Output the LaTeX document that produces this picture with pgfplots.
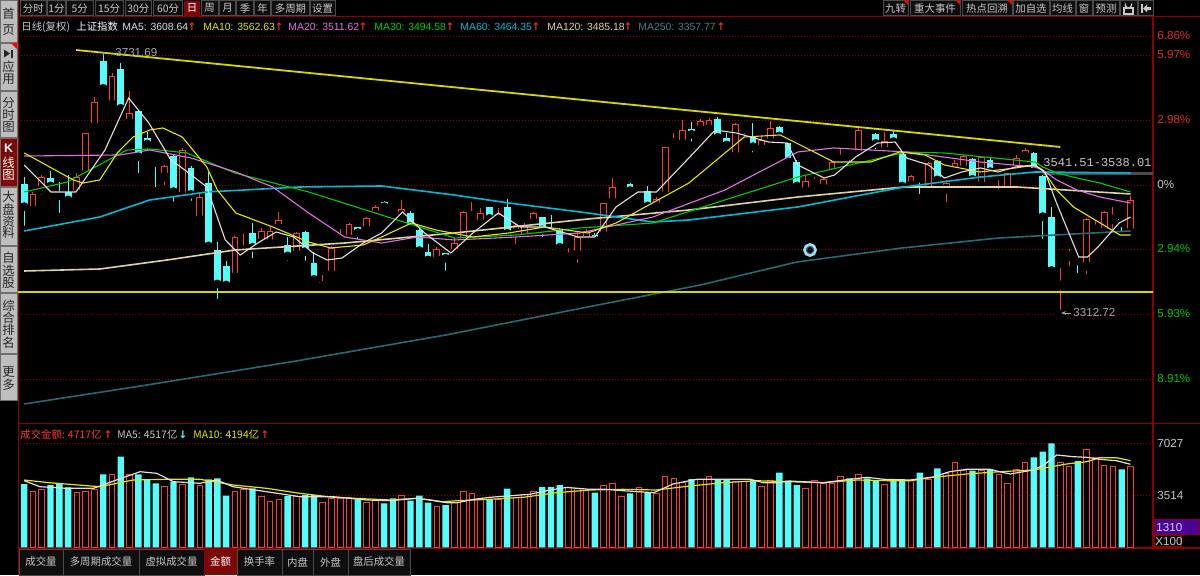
\documentclass[border=0pt]{standalone}
\usepackage{pgfplots}
\pgfplotsset{compat=1.18}
\usepackage{pgfplotstable}
\usetikzlibrary{arrows.meta}
\usepackage{fontspec}
\setmainfont{Liberation Sans}
\newfontfamily\cjk{Noto Sans CJK SC}
\newfontfamily\dv{DejaVu Sans}
\newfontfamily\mono{Liberation Mono}
\definecolor{upred}{RGB}{255,55,55}
\definecolor{dncyan}{RGB}{84,252,252}
\definecolor{ma5c}{RGB}{225,225,225}
\definecolor{ma10c}{RGB}{230,230,0}
\definecolor{ma20c}{RGB}{230,110,230}
\definecolor{ma30c}{RGB}{0,205,0}
\definecolor{ma60c}{RGB}{0,185,210}
\definecolor{ma120c}{RGB}{220,212,165}
\definecolor{ma250c}{RGB}{40,105,115}
\definecolor{trendc}{RGB}{215,215,0}
\definecolor{gridred}{RGB}{150,0,0}
\definecolor{framered}{RGB}{140,0,0}
\definecolor{ltgray}{RGB}{200,200,200}
\definecolor{midgray}{RGB}{165,165,165}
\definecolor{tbg}{RGB}{14,14,14}
\definecolor{tbd}{RGB}{75,75,75}
\definecolor{selred}{RGB}{125,8,8}
\definecolor{sbg}{RGB}{190,190,190}
\definecolor{sbd}{RGB}{110,110,110}
\definecolor{pctred}{RGB}{225,45,45}
\definecolor{pctgreen}{RGB}{0,200,0}
\definecolor{arrred}{RGB}{240,40,40}
\definecolor{purp}{RGB}{75,0,150}

\newcommand\fs{\fontsize{5.2}{6.2}\selectfont}
\newcommand\fr{\fontsize{5.8}{6.8}\selectfont}
\newcommand\fb{\fontsize{6.2}{7.2}\selectfont}

\pgfplotstableread{
i O H L C V u
0 3523.2 3535.0 3448.9 3486.5 4277 0
1 3480.1 3510.8 3473.1 3507.0 3804 1
2 3513.5 3537.7 3498.4 3535.0 3939 1
3 3533.4 3544.7 3508.1 3519.9 4209 0
4 3506.5 3526.9 3469.3 3504.3 4324 0
5 3510.8 3537.7 3494.6 3497.3 4054 0
6 3507.0 3541.5 3494.6 3535.0 3689 1
7 3537.7 3606.1 3529.6 3605.0 3804 1
8 3614.7 3663.1 3613.1 3656.1 3939 1
9 3722.3 3731.7 3665.8 3677.6 4932 0
10 3650.7 3701.9 3637.3 3697.6 4932 1
11 3708.3 3719.1 3644.3 3645.3 6121 0
12 3621.1 3673.3 3620.0 3638.4 4932 1
13 3641.0 3642.7 3533.9 3567.3 4932 0
14 3596.9 3607.7 3570.0 3587.7 4594 0
15 3516.2 3551.1 3502.7 3510.8 4324 0
16 3533.9 3553.8 3514.5 3552.8 4141 1
17 3568.4 3570.0 3487.6 3510.8 4432 0
18 3502.7 3580.8 3501.6 3578.1 4277 1
19 3548.5 3552.2 3489.2 3506.5 4729 0
20 3465.0 3507.0 3459.6 3502.7 4209 1
21 3525.3 3543.1 3422.0 3423.0 4594 0
22 3416.6 3430.0 3330.4 3361.7 4662 0
23 3390.7 3399.3 3356.3 3360.0 3486 0
24 3372.4 3439.2 3371.4 3438.1 3804 1
25 3449.9 3456.9 3416.6 3454.3 3918 1
26 3443.5 3459.6 3396.1 3420.9 3986 0
27 3427.3 3451.6 3422.0 3447.8 3466 1
28 3426.3 3455.3 3413.9 3447.8 3128 1
29 3451.6 3478.5 3449.9 3465.0 3263 1
30 3424.6 3438.1 3392.3 3406.9 3466 0
31 3408.5 3446.2 3406.9 3444.6 3419 1
32 3446.2 3447.8 3392.3 3413.9 3533 0
33 3395.0 3413.9 3365.4 3369.2 3533 0
34 3357.4 3376.2 3349.3 3365.4 3040 1
35 3376.2 3423.0 3375.1 3419.3 3310 1
36 3432.7 3450.5 3422.0 3437.0 3310 1
37 3433.8 3459.6 3432.7 3458.6 3378 1
38 3453.2 3454.3 3427.3 3444.6 3243 0
39 3447.8 3469.3 3446.2 3467.7 3013 1
40 3473.1 3489.2 3467.7 3486.5 3243 1
41 3493.5 3496.2 3480.1 3486.5 2973 0
42 3484.4 3484.9 3471.5 3482.2 3310 0
43 3471.5 3497.3 3469.3 3482.2 3533 1
44 3476.9 3480.1 3451.6 3454.3 3148 0
45 3448.9 3449.9 3413.9 3415.5 3486 0
46 3412.8 3426.3 3389.7 3400.4 3013 0
47 3399.3 3420.9 3397.7 3417.6 2790 1
48 3411.2 3412.3 3376.2 3403.1 2858 0
49 3411.2 3435.4 3410.1 3428.4 3040 1
50 3430.0 3480.1 3428.4 3478.5 3756 1
51 3470.4 3494.6 3466.1 3474.7 3648 1
52 3458.6 3483.9 3453.2 3475.8 3263 1
53 3485.5 3486.5 3465.0 3467.7 3263 0
54 3465.0 3483.9 3459.6 3474.7 3263 1
55 3486.5 3498.4 3440.8 3443.5 3959 0
56 3443.5 3460.7 3419.3 3456.9 3378 1
57 3435.4 3460.7 3426.3 3456.9 3580 1
58 3459.6 3478.5 3456.9 3475.8 3756 1
59 3469.3 3470.4 3430.0 3448.9 4074 0
60 3448.9 3473.1 3430.0 3444.6 4074 0
61 3448.9 3451.6 3419.3 3420.9 4209 0
62 3426.3 3430.6 3405.8 3429.5 4027 1
63 3408.5 3446.2 3388.6 3438.1 3986 1
64 3431.6 3449.9 3430.0 3447.2 3824 1
65 3440.8 3443.5 3421.9 3432.7 3689 0
66 3439.2 3493.0 3424.6 3491.9 4209 1
67 3493.0 3532.3 3491.9 3517.8 4324 1
68 3523.1 3531.2 3512.4 3529.6 3419 1
69 3523.1 3524.2 3507.0 3512.4 3648 0
70 3510.2 3518.8 3497.3 3513.5 4027 1
71 3512.4 3519.9 3485.5 3487.6 3689 0
72 3486.5 3501.6 3471.5 3499.5 3648 1
73 3503.8 3583.4 3502.7 3582.4 4817 1
74 3588.8 3605.0 3587.7 3594.2 4662 1
75 3587.7 3626.5 3586.1 3610.4 4364 1
76 3611.4 3623.8 3584.5 3603.4 4614 0
77 3610.4 3627.6 3600.7 3625.4 4594 1
78 3611.4 3629.2 3605.0 3626.5 4817 1
79 3628.1 3631.9 3586.1 3598.5 4594 0
80 3596.9 3605.0 3585.1 3586.1 4547 0
81 3567.3 3622.2 3563.5 3620.0 4432 1
82 3595.3 3605.0 3583.4 3600.7 4432 1
83 3600.7 3622.2 3567.3 3583.4 4547 0
84 3579.1 3600.7 3577.0 3594.2 4141 1
85 3589.9 3625.4 3588.8 3613.0 4547 1
86 3615.7 3616.8 3594.2 3600.7 5040 0
87 3588.8 3589.9 3556.5 3559.2 4499 0
88 3559.2 3561.9 3516.2 3519.9 4209 0
89 3510.8 3536.1 3509.1 3528.0 3986 1
90 3523.1 3533.9 3508.1 3526.9 4547 1
91 3516.1 3532.3 3508.1 3530.7 4324 1
92 3540.4 3561.9 3539.3 3559.2 4324 1
93 3561.9 3579.1 3559.2 3567.3 4817 1
94 3571.1 3572.7 3553.8 3568.9 4662 0
95 3570.0 3613.0 3568.4 3610.4 4932 1
96 3613.0 3615.7 3606.0 3610.4 4662 0
97 3603.4 3605.0 3572.7 3588.8 4547 0
98 3575.4 3607.7 3573.7 3593.1 4277 1
99 3603.4 3610.4 3590.4 3591.5 4594 0
100 3571.6 3572.7 3518.8 3519.9 4594 0
101 3519.9 3537.1 3517.8 3536.1 4499 1
102 3533.9 3537.7 3500.0 3532.3 5040 0
103 3510.8 3559.2 3508.1 3557.6 4594 1
104 3560.3 3561.9 3525.3 3529.6 5337 0
105 3514.5 3529.6 3486.5 3524.2 4999 1
106 3543.1 3561.9 3529.6 3556.5 5743 1
107 3545.8 3570.0 3543.1 3568.4 5222 1
108 3563.0 3564.6 3528.5 3530.7 5175 0
109 3519.9 3567.3 3518.8 3566.2 5222 1
110 3561.9 3567.3 3541.5 3543.1 5290 0
111 3536.1 3545.8 3508.1 3541.5 4952 1
112 3513.5 3541.5 3510.8 3540.4 4324 1
113 3545.8 3570.0 3544.7 3564.6 5270 1
114 3567.3 3580.7 3566.2 3578.1 5743 1
115 3573.7 3575.4 3541.51 3543.1 6080 0
116 3536.0 3538.01 3427.3 3470.4 6459 0
117 3470.4 3485.5 3383.2 3383.2 7026 0
118 3358.4 3388.0 3312.72 3363.8 5743 1
119 3405.8 3418.2 3384.3 3413.9 5493 1
120 3400.4 3405.8 3372.4 3398.8 5830 0
121 3389.7 3467.7 3370.8 3466.1 6621 1
122 3448.9 3465.0 3438.1 3451.0 6053 1
123 3444.6 3480.1 3443.5 3478.5 5560 1
124 3465.0 3486.5 3443.5 3467.7 5493 1
125 3466.1 3467.7 3439.2 3460.7 5270 0
126 3444.6 3503.8 3443.5 3497.3 5493 1
}\data

\pgfplotsset{
  candle/.style={only marks, mark=none, forget plot,
    error bars/y dir=plus, error bars/y explicit, error bars/error mark=none},
  isup/.style={restrict expr to domain={\thisrow{u}}{0.5:1.5}},
  isdn/.style={restrict expr to domain={\thisrow{u}}{-0.5:0.5}},
  mainax/.style={at={(9pt,76pt)}, anchor=south west, scale only axis,
    width=567.5pt, height=203pt, xmin=-0.706, xmax=128.56, ymin=3137.1, ymax=3792.8,
    hide axis, clip=true},
}

\begin{document}
\begin{tikzpicture}
\fill[black] (0,0) rectangle (600pt,287.5pt);
% ---------- chrome under data (pixel coordinates) ----------
\begin{scope}[x=0.5pt,y=-0.5pt,yshift=287.5pt]
  \foreach \yy in {36,55,120,185,249,314,379,443.3,495.3}
    \draw[gridred, line width=0.5pt, dash pattern=on 0.5pt off 1pt] (18,\yy) -- (1153,\yy);
  \draw[framered, line width=0.8pt] (18,16.5) -- (1200,16.5);
  \draw[framered, line width=0.8pt] (18,423.5) -- (1200,423.5);
  \draw[framered, line width=0.8pt] (18,548) -- (1200,548);
  \draw[framered, line width=0.8pt] (18.3,0) -- (18.3,575);
  \draw[framered, line width=0.8pt] (1153,16.5) -- (1153,548);
  \foreach \a/\b/\t in {20/46.7/分时, 47.7/65/1分, 66/93.3/5分, 95/123.3/15分, 125/151.7/30分, 153.3/182.7/60分, 201/218.3/周, 219.3/235.7/月, 236.7/253.3/季, 254.3/270.7/年, 271.7/309.3/多周期, 310/335/设置}
  { \draw[draw=tbd, fill=tbg, line width=0.4pt] (\a,0.5) rectangle (\b,15.5);
    \node[font=\fs\cjk, text=ltgray, inner sep=0] at ({(\a+\b)/2},8.2) {\t}; }
  \fill[selred] (184,0.5) rectangle (200,15.5);
  \node[font=\fs\cjk, text=white, inner sep=0] at (192,8.2) {日};
  \foreach \a/\b/\t in {883/908/九转, 910/960/重大事件, 962/1012/热点回溯, 1013/1049/加自选, 1050/1075/均线, 1076/1092/窗, 1093/1119/预测}
  { \draw[draw=tbd, fill=tbg, line width=0.4pt] (\a,0.5) rectangle (\b,15.5);
    \node[font=\fs\cjk, text=ltgray, inner sep=0] at ({(\a+\b)/2},8.2) {\t}; }
  \foreach \a/\b in {1120/1137, 1138/1153}
    \draw[draw=tbd, fill=tbg, line width=0.4pt] (\a,0.5) rectangle (\b,15.5);
  \foreach \b in {908,960,1012}
    \fill[red] (\b-4.5,0.5) -- (\b,0.5) -- (\b,5) -- cycle;
  \draw[ltgray, line width=0.6pt] (1124,8) rectangle (1133,14);
  \draw[ltgray, line width=0.6pt] (1125.5,8) -- (1125.5,5) arc (180:0:3) -- (1131.5,6);
  \fill[ltgray] (1141,4) rectangle (1142.5,13);
  \fill[ltgray] (1143,8.5) -- (1147,4.5) -- (1147,7) -- (1151,7) -- (1151,10) -- (1147,10) -- (1147,12.5) -- cycle;
  \foreach \a/\b in {0/42, 43/90, 91/137, 187/245, 246/292, 293/353, 354/400}
    \draw[draw=sbd, fill=sbg, line width=0.4pt] (0.3,\a) rectangle (17,\b);
  \draw[draw=sbd, fill=selred, line width=0.4pt] (0.3,138) rectangle (17,186);
  \fill[red] (11,43) -- (17,43) -- (17,49) -- cycle;
  \foreach \yy/\t in {14/首, 30/页, 67/应, 79/用, 103/分, 115/时, 127/图, 197/大, 210/盘, 222/资, 233/料, 258/自, 271/选, 283/股, 306/综, 318/合, 330/排, 343/名, 372/更, 385/多}
    \node[font=\fb\cjk, text=black!85, inner sep=0] at (8.7,\yy) {\t};
  \fill[black!85] (4,49.5) -- (10,53.5) -- (4,57.5) -- cycle;
  \fill[black!85] (10.5,49.5) rectangle (12.5,57.5);
  \node[font=\fb\bfseries, text=white, inner sep=0] at (8.7,148) {K};
  \node[font=\fb\cjk, text=white, inner sep=0] at (8.7,163) {线};
  \node[font=\fb\cjk, text=white, inner sep=0] at (8.7,175) {图};
  \node[anchor=west, font=\fs\cjk, text=ltgray, inner sep=0] at (21,27) {日线(复权)};
  \node[anchor=west, font=\fs\cjk, text=white, inner sep=0] at (76,27) {上证指数};
  \node[anchor=west, font=\fs, text=ma5c, inner sep=0] at (122,27) {MA5: 3608.64};
  \node[anchor=west, font=\fs, text=ma10c, inner sep=0] at (203,27) {MA10: 3562.63};
  \node[anchor=west, font=\fs, text=ma20c, inner sep=0] at (288,27) {MA20: 3511.62};
  \node[anchor=west, font=\fs, text=ma30c, inner sep=0] at (374,27) {MA30: 3494.58};
  \node[anchor=west, font=\fs, text=ma60c, inner sep=0] at (460,27) {MA60: 3464.35};
  \node[anchor=west, font=\fs, text=ma120c, inner sep=0] at (547,27) {MA120: 3485.18};
  \node[anchor=west, font=\fs, text=ma250c!85!white, inner sep=0] at (638,27) {MA250: 3357.77};
  \foreach \xx in {192,279,363,450,536,628,721}
    \node[font=\fs\dv\bfseries, text=arrred, inner sep=0] at (\xx,27) {↑};
  \node[anchor=west, font=\fr, text=pctred, inner sep=0] at (1157,36) {6.86\%};
  \node[anchor=west, font=\fr, text=pctred, inner sep=0] at (1157,55) {5.97\%};
  \node[anchor=west, font=\fr, text=pctred, inner sep=0] at (1157,120) {2.98\%};
  \node[anchor=west, font=\fr, text=ltgray, inner sep=0] at (1157,185) {0\%};
  \node[anchor=west, font=\fr, text=pctgreen, inner sep=0] at (1157,249) {2.94\%};
  \node[anchor=west, font=\fr, text=pctgreen, inner sep=0] at (1157,314) {5.93\%};
  \node[anchor=west, font=\fr, text=pctgreen, inner sep=0] at (1157,379) {8.91\%};
  \node[anchor=west, font=\fs\cjk, text=upred, inner sep=0] at (20,434.5) {成交金额: 4717亿};
  \node[font=\fs\dv\bfseries, text=arrred, inner sep=0] at (108,434.5) {↑};
  \node[anchor=west, font=\fs\cjk, text=ltgray, inner sep=0] at (117,434.5) {MA5: 4517亿};
  \node[font=\fs\dv\bfseries, text=dncyan, inner sep=0] at (183,434.5) {↓};
  \node[anchor=west, font=\fs\cjk, text=ma10c, inner sep=0] at (193,434.5) {MA10: 4194亿};
  \node[font=\fs\dv\bfseries, text=arrred, inner sep=0] at (265,434.5) {↑};
  \node[anchor=west, font=\fr, text=ltgray, inner sep=0] at (1157,443.3) {7027};
  \node[anchor=west, font=\fr, text=ltgray, inner sep=0] at (1157,495.3) {3514};
  \fill[purp] (1154,519.5) rectangle (1200,534);
  \draw[framered, line width=0.5pt] (1154,519.5) rectangle (1199.5,534);
  \node[anchor=west, font=\fr, text=white!85!blue, inner sep=0] at (1156,527) {1310};
  \draw[framered, line width=0.8pt] (1154,535) rectangle (1181,547);
  \node[anchor=west, font=\fr, text=ltgray, inner sep=0] at (1155,541.3) {X100};
  \foreach \a/\b/\t in {19/63/成交量, 63/139/多周期成交量, 139/204/虚拟成交量, 237/282/换手率, 282/313/内盘, 313/348/外盘, 348/410/盘后成交量}
  { \draw[draw=tbd, fill=tbg, line width=0.4pt] (\a,549) rectangle (\b,575);
    \node[font=\fs\cjk, text=ltgray, inner sep=0] at ({(\a+\b)/2},562) {\t}; }
  \fill[selred] (204,549) rectangle (237,575);
  \node[font=\fs\cjk, text=white, inner sep=0] at (220.5,562) {金额};
\end{scope}

% ---------- main price axis: candles ----------
\begin{axis}[mainax]
  \addplot[candle, isup, error bars/error bar style={line width=0.5pt, color=upred}]
    table[x=i, y=L, y error plus expr=\thisrow{H}-\thisrow{L}] {\data};
  \addplot[candle, isdn, error bars/error bar style={line width=0.5pt, color=dncyan}]
    table[x=i, y=L, y error plus expr=\thisrow{H}-\thisrow{L}] {\data};
  \addplot[candle, isdn, error bars/error bar style={line width=3.4pt, color=dncyan}]
    table[x=i, y=C, y error plus expr={max(\thisrow{O}-\thisrow{C},1.6)}] {\data};
  \addplot[candle, isup, error bars/error bar style={line width=3.4pt, color=upred}]
    table[x=i, y=O, y error plus expr={max(\thisrow{C}-\thisrow{O},1.6)}] {\data};
  \addplot[candle, isup, error bars/error bar style={line width=2.4pt, color=black}]
    table[x=i, y expr=\thisrow{O}+1.62, y error plus expr={max(\thisrow{C}-\thisrow{O}-3.24,0)}] {\data};
\end{axis}

% ---------- main price axis: lines on top ----------
\begin{axis}[mainax]
  \addplot[gray!60!black, line width=1.3pt, forget plot] coordinates {(116,3540.2) (129,3540.2)};
  \addplot[ma250c, line width=0.8pt] coordinates {(0,3167.8) (14,3198.5) (31,3237.3) (48,3279.2) (63,3321.2) (77,3360.0) (88,3397.1) (100,3419.8) (111,3435.9) (126,3447.2)};
  \addplot[ma120c, line width=0.8pt] coordinates {(0,3382.6) (8.6,3385.8) (16.3,3400.4) (24,3416.5) (36.5,3427.8) (49,3444.0) (64.2,3466.6) (75.7,3481.1) (88.1,3502.1) (100.2,3518.3) (113,3518.3) (126,3507.0)};
  \addplot[ma60c, line width=0.8pt] coordinates {(0,3447.2) (8.6,3469.8) (14.3,3497.3) (20.8,3510.2) (31.4,3518.3) (40.7,3519.9) (49,3505.3) (55.2,3492.4) (64.2,3476.3) (71.6,3461.7) (75.7,3465.0) (88.1,3486.0) (100.2,3518.3) (108.9,3534.4) (115.1,3542.5) (126,3540.9)};
  \addplot[ma30c, line width=0.55pt] coordinates {(0,3510.2) (4.9,3526.3) (11.7,3578.0) (14.4,3579.6) (18.5,3573.2) (24,3540.9) (32.4,3510.2) (40.7,3473.0) (49,3435.9) (56,3440.7) (63.3,3452.1) (71.6,3460.1) (79.8,3497.3) (88.1,3534.4) (100.5,3574.8) (104.8,3573.2) (115.1,3558.6) (116,3550.6) (117.6,3540.9) (119.9,3532.8) (122.5,3524.7) (126,3510.2)};
  \addplot[ma20c, line width=0.55pt] coordinates {(0,3568.3) (10.9,3570.0) (14.3,3578.0) (19,3565.1) (24.1,3542.5) (28.3,3518.3) (32.4,3476.3) (36.5,3437.5) (40.7,3427.8) (44.8,3437.5) (49,3432.7) (56,3437.5) (63.3,3444.0) (71.6,3469.8) (79.8,3513.4) (88.1,3574.8) (92.2,3581.3) (100.5,3574.8) (108.9,3558.6) (115.1,3550.6) (116,3545.7) (117.6,3529.6) (119.9,3513.4) (122.5,3502.1) (126,3492.4)};
  \addplot[ma10c, line width=0.55pt] coordinates {(0,3573.2) (5.6,3529.6) (6.7,3524.7) (8.6,3529.6) (10.6,3573.2) (12.4,3599.0) (14.3,3610.3) (15.8,3613.6) (18,3599.0) (20.8,3550.6) (22,3513.4) (24.1,3476.3) (28.3,3453.7) (32.4,3429.4) (34.9,3419.8) (38.6,3424.6) (40.7,3437.5) (44.1,3460.1) (46.9,3448.8) (51.1,3437.5) (55.2,3444.0) (59.3,3453.7) (64.2,3444.0) (67.4,3460.1) (75.7,3524.7) (82,3599.0) (86.1,3602.3) (90.2,3573.2) (92.2,3558.6) (96.4,3558.6) (99.7,3574.8) (102.6,3570.0) (104.8,3553.8) (108.9,3542.5) (112.9,3549.0) (115.1,3553.8) (116,3545.7) (117.6,3513.4) (119.5,3486.0) (121.4,3469.8) (123.3,3453.7) (124.8,3440.7) (126,3440.7)};
  \addplot[ma5c, line width=0.55pt] coordinates {(0,3553.8) (3.05,3510.2) (5.9,3510.2) (9.2,3578.0) (11.9,3662.0) (14.2,3621.6) (16.7,3561.9) (18.3,3545.7) (20.8,3518.3) (22.9,3432.7) (24.6,3408.4) (26.6,3427.8) (28.7,3445.6) (30.7,3437.5) (32.9,3411.7) (34.5,3400.4) (36.2,3403.6) (38.6,3427.8) (40.7,3444.0) (43.1,3477.9) (45.6,3444.0) (48.6,3411.7) (51.1,3444.0) (54,3476.3) (56.5,3453.7) (59.3,3453.7) (63.1,3437.5) (65,3437.5) (67.4,3486.0) (69.9,3510.2) (72,3510.2) (75.7,3565.1) (78.7,3610.3) (81.1,3605.5) (84.8,3590.9) (86.9,3589.3) (88.1,3553.8) (91.1,3532.8) (92.3,3537.7) (94.7,3566.7) (97.2,3589.3) (99.2,3590.9) (100.5,3565.1) (103,3553.8) (104.8,3532.8) (106.8,3542.5) (108.9,3549.0) (110.9,3542.5) (112.9,3550.6) (115.1,3553.8) (116.3,3540.9) (117.5,3495) (120.1,3405.2) (121.1,3405.2) (122.3,3421.4) (124.7,3460.1) (126,3469.8)};
  \addplot[trendc, line width=0.9pt] coordinates {(5.9,3739.5) (118,3582.9)};
  \addplot[trendc, line width=0.9pt] coordinates {(-1,3348.7) (129,3348.7)};
\end{axis}

% ---------- volume axis ----------
\begin{axis}[at={(9pt,13.85pt)}, anchor=south west, scale only axis,
  width=567.5pt, height=61.15pt, xmin=-0.706, xmax=128.56, ymin=0, ymax=8262.6,
  hide axis, clip=true]
  \addplot[ybar, bar width=3.2pt, bar shift=0pt, fill=dncyan, draw=none, isdn, forget plot]
    table[x=i, y=V] {\data};
  \addplot[ybar, bar width=2.8pt, bar shift=0pt, fill=black, draw=upred, line width=0.5pt, isup, forget plot]
    table[x=i, y=V] {\data};
  \addplot[ma10c, line width=0.6pt] coordinates {(0,4547) (2.9,4364) (8.6,4094) (12.4,4547) (16.2,4594) (20,4594) (23.8,4209) (27.6,3986) (31.4,3648) (35.2,3378) (41.7,3196) (44.7,3310) (47.7,3081) (49.3,3148) (53.05,3243) (56.85,3378) (60.6,3689) (64.4,3871) (68.2,3918) (72,3871) (75.8,4141) (79.6,4364) (83.4,4499) (87.2,4432) (91,4364) (94.8,4547) (98.6,4499) (101,4499) (103.5,4729) (107.3,4952) (111.1,5107) (114.9,5222) (118.7,5628) (121,5783) (122.5,6053) (124.4,6053) (126,5851)};
  \addplot[ma5c, line width=0.6pt] coordinates {(0,4499) (1.8,4094) (4.8,3986) (7.9,3986) (10.5,4547) (13.2,5107) (15.1,4999) (17,4432) (20,4324) (21.9,4547) (23.8,4094) (27.6,3756) (31.4,3419) (35.2,3419) (39,3196) (41.7,3151) (44.7,3310) (46.2,3196) (48.1,3013) (49.3,3013) (51.2,3243) (53.05,3378) (55,3468) (57.6,3580) (59.9,3871) (61.8,4045) (64.4,3918) (66.3,3918) (68.2,3824) (71.7,3689) (73.9,4277) (76.6,4594) (79.6,4594) (82.7,4594) (84.2,4364) (85.7,4364) (87.2,4477) (91,4364) (94,4594) (96,4729) (97.9,4594) (100.9,4547) (103.5,4749) (105.4,5107) (107.3,5270) (110,5270) (111.1,5107) (112.3,4952) (114.9,5222) (116.1,5560) (117.6,6236) (119.5,6121) (121,6080) (122.5,5945) (124.4,5851) (126,5607)};
\end{axis}

% ---------- overlays ----------
\begin{scope}[x=0.5pt,y=-0.5pt,yshift=287.5pt]
  \draw[midgray, line width=0.5pt] (103,56) -- (103,52.5) -- (108,52.5);
  \node[anchor=west, font=\fr, text=midgray, inner sep=0] at (115,53) {3731.69};
  \draw[midgray, line width=0.5pt, -{Stealth[length=2.5pt]}] (1071,313) -- (1061,313);
  \node[anchor=west, font=\fr, text=midgray, inner sep=0] at (1073,313) {3312.72};
  \node[anchor=west, font=\fontsize{6}{7}\selectfont\mono, text=ltgray, inner sep=0] at (1043,163) {3541.51-3538.01};
  \draw[white!60!cyan, line width=1.4pt] (810,250) circle (5.5);
  \draw[black!70!cyan, line width=0.5pt] (810,250) circle (3.5);
\end{scope}
\pgfresetboundingbox
\path[use as bounding box] (0,0) rectangle (600pt,287.5pt);
\end{tikzpicture}
\end{document}
